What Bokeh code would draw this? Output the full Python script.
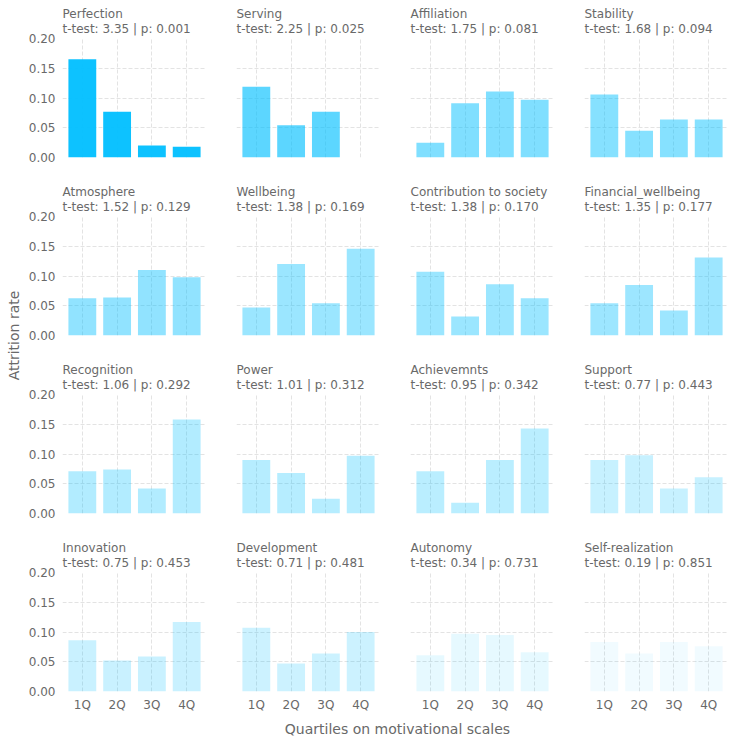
from bokeh.plotting import figure
from bokeh.layouts import row, column
from bokeh.models import (FactorRange, Range1d, FixedTicker, NumeralTickFormatter,
                          Title, ColumnDataSource)
from bokeh.core.properties import value
from bokeh.embed import file_html
from bokeh.resources import INLINE
import math

quartiles = ["1Q", "2Q", "3Q", "4Q"]

scales = ["Perfection", "Serving", "Affiliation", "Stability",
          "Atmosphere", "Wellbeing", "Contribution to society", "Financial_wellbeing",
          "Recognition", "Power", "Achievemnts", "Support",
          "Innovation", "Development", "Autonomy", "Self-realization"]

t_stats = [3.35, 2.25, 1.75, 1.68, 1.52, 1.38, 1.38, 1.35,
           1.06, 1.01, 0.95, 0.77, 0.75, 0.71, 0.34, 0.19]
p_values = [0.001, 0.025, 0.081, 0.094, 0.129, 0.169, 0.170, 0.177,
            0.292, 0.312, 0.342, 0.443, 0.453, 0.481, 0.731, 0.851]

perfection = [0.165, 0.077, 0.020, 0.018]
serving = [0.119, 0.054, 0.077, 0.0]
affiliation = [0.025, 0.091, 0.111, 0.097]
stability = [0.106, 0.045, 0.064, 0.064]
atmosphere = [0.0625, 0.064, 0.110, 0.098]
wellbeing = [0.047, 0.120, 0.054, 0.146]
contribution = [0.107, 0.032, 0.086, 0.0625]
financial = [0.054, 0.085, 0.042, 0.131]
recognition = [0.071, 0.074, 0.042, 0.158]
power = [0.090, 0.068, 0.025, 0.097]
achievements = [0.071, 0.018, 0.090, 0.143]
support = [0.090, 0.098, 0.042, 0.061]
innovation = [0.086, 0.052, 0.059, 0.117]
development = [0.107, 0.047, 0.064, 0.100]
autonomy = [0.061, 0.097, 0.095, 0.066]
self_realization = [0.083, 0.064, 0.083, 0.076]

rates = [perfection, serving, affiliation, stability,
         atmosphere, wellbeing, contribution, financial,
         recognition, power, achievements, support,
         innovation, development, autonomy, self_realization]

y_ticks = [0.0, 0.05, 0.10, 0.15, 0.20]

FONT = "DejaVu Sans"
TXT = "#696969"
GRID = "#e3e3e3"
BAR = "#00BFFF"
FRAME_W, FRAME_H = 144, 119
max_t = max(t_stats)

rows = []
for r in range(4):
    figs = []
    for c in range(4):
        i = r * 4 + c
        left = 40 if c == 0 else 15
        right = 15 if c < 3 else 0
        top = 38 if r == 0 else 35
        bottom = 22 if r == 3 else 24
        p = figure(x_range=FactorRange(*quartiles, range_padding=0.035),
                   y_range=Range1d(0, 0.2),
                   frame_width=FRAME_W, frame_height=FRAME_H,
                   min_border_left=left, min_border_right=right,
                   min_border_top=top, min_border_bottom=bottom,
                   toolbar_location=None, output_backend="svg", title=None)
        p.outline_line_color = None
        p.background_fill_color = "white"
        p.border_fill_color = "white"
        src = ColumnDataSource(dict(q=quartiles, rate=rates[i]))
        p.vbar(x="q", top="rate", width=0.8, source=src, fill_color=BAR,
               fill_alpha=0.95 * t_stats[i] / max_t, line_color=None)
        p.yaxis.ticker = FixedTicker(ticks=y_ticks)
        p.yaxis.formatter = NumeralTickFormatter(format="0.00")
        p.ygrid.ticker = FixedTicker(ticks=y_ticks)
        for ax in (p.xaxis[0], p.yaxis[0]):
            ax.axis_line_color = None
            ax.major_tick_line_color = None
            ax.minor_tick_line_color = None
            ax.major_tick_out = 0
            ax.major_tick_in = 0
            ax.major_label_text_color = TXT
            ax.major_label_text_font = FONT
            ax.major_label_text_font_size = "12px"
        p.yaxis.major_label_standoff = 7
        p.xaxis.major_label_standoff = 6
        p.xaxis.visible = (r == 3)
        p.yaxis.visible = (c == 0)
        for g in (p.xgrid[0], p.ygrid[0]):
            g.grid_line_color = GRID
            g.grid_line_dash = "4 2"
            g.grid_line_width = 1
        ttl = Title(text=f"{scales[i]}\nt-test: {t_stats[i]:.2f} | p: {p_values[i]:.3f}",
                    align="left", offset=0, standoff=4, text_font=FONT,
                    text_font_size="12px", text_font_style="normal", text_color=TXT,
                    text_line_height=1.1)
        p.add_layout(ttl, "above")
        figs.append(p)
    rows.append(row(*figs))

grid_h = (38 + 119 + 24) + 2 * (35 + 119 + 24) + (35 + 119 + 22)

def label_fig(w, h):
    f = figure(width=w, height=h, x_range=Range1d(0, w), y_range=Range1d(0, h),
               toolbar_location=None, output_backend="svg", min_border=0)
    f.axis.visible = False
    f.grid.visible = False
    f.outline_line_color = None
    return f

yl = label_fig(22, grid_h)
yl.text(x=[13.5], y=[grid_h - 335], text=["Attrition rate"], angle=math.pi / 2,
        text_align="center", text_baseline="middle", text_font=value(FONT),
        text_font_size="14px", text_color=TXT)

xl = label_fig(731, 26)
xl.text(x=[397], y=[12], text=["Quartiles on motivational scales"],
        text_align="center", text_baseline="alphabetic", text_font=value(FONT),
        text_font_size="14px", text_color=TXT)

layout = column(row(yl, column(*rows)), xl)

open("out.html", "w").write(file_html(layout, INLINE))
